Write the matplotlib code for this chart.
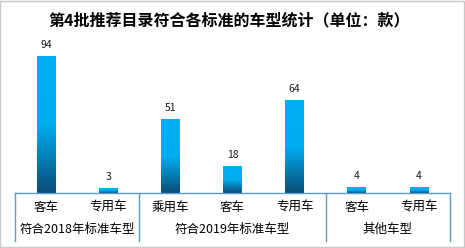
import matplotlib
matplotlib.use("Agg")
import matplotlib.pyplot as plt
import numpy as np
from matplotlib.colors import LinearSegmentedColormap
from matplotlib.patches import Rectangle

plt.rcParams["font.family"] = ["Noto Sans CJK SC", "DejaVu Sans"]

title = "第4批推荐目录符合各标准的车型统计（单位：款）"
categories = ["客车", "专用车", "乘用车", "客车", "专用车", "客车", "专用车"]
values = [94, 3, 51, 18, 64, 4, 4]
groups = ["符合2018年标准车型", "符合2019年标准车型", "其他车型"]
group_sizes = [2, 3, 2]

axis_color = "#5B9BD5"
bar_cmap = LinearSegmentedColormap.from_list(
    "bar", [(0, "#0B4C78"), (0.5, "#00AEEF"), (1, "#00B0F0")]
)

fig = plt.figure(figsize=(4.65, 2.48), dpi=100)
ax = fig.add_axes([15 / 465, 1 - 192.5 / 248, 435 / 465, 162.5 / 248])

x = np.arange(len(values))
width = 0.3
bars = ax.bar(x, values, width, color="none", edgecolor="none")
grad = np.linspace(0, 1, 256).reshape(-1, 1)
for b in bars:
    x0, h = b.get_x(), b.get_height()
    img = ax.imshow(grad, cmap=bar_cmap, origin="lower", aspect="auto",
                    extent=[x0, x0 + width, 0, h], zorder=2)
    img.set_clip_path(b)
    ax.annotate(str(h), (x0 + width / 2, h), xytext=(0, 6),
                textcoords="offset pixels", ha="center", va="bottom",
                fontsize=7.5, color="#1a1a1a")

ax.set_xlim(-0.5, len(values) - 0.5)
ax.set_ylim(0, 112.3)
for side in ["left", "right", "top"]:
    ax.spines[side].set_visible(False)
ax.spines["bottom"].set_color(axis_color)
ax.spines["bottom"].set_linewidth(1)
ax.set_yticks([])
ax.set_xticks([])

for xi, name in zip(x, categories):
    ax.annotate(name, (xi, 0), xycoords=("data", "axes fraction"),
                xytext=(0, -14.5), textcoords="offset pixels",
                ha="center", va="center", fontsize=9)

start = 0
edges = [-0.5]
for g, n in zip(groups, group_sizes):
    center = start + (n - 1) / 2
    ax.annotate(g, (center, 0), xycoords=("data", "axes fraction"),
                xytext=(0, -36.5), textcoords="offset pixels",
                ha="center", va="center", fontsize=9)
    start += n
    edges.append(start - 0.5)

trans = ax.get_xaxis_transform()
for e in edges:
    ax.plot([e, e], [0, -48.5 / 162.5], transform=trans, color=axis_color,
            lw=1, clip_on=False)

fig.text(229 / 465, 1 - 20 / 248, title, ha="center", va="center",
         fontsize=11.5, fontweight="bold")

fig.patches.append(Rectangle((0.001, 0.004), 0.996, 0.992, transform=fig.transFigure,
                             fill=False, edgecolor="#C8C8C8", lw=1))

fig.savefig("out.png", dpi=100)
